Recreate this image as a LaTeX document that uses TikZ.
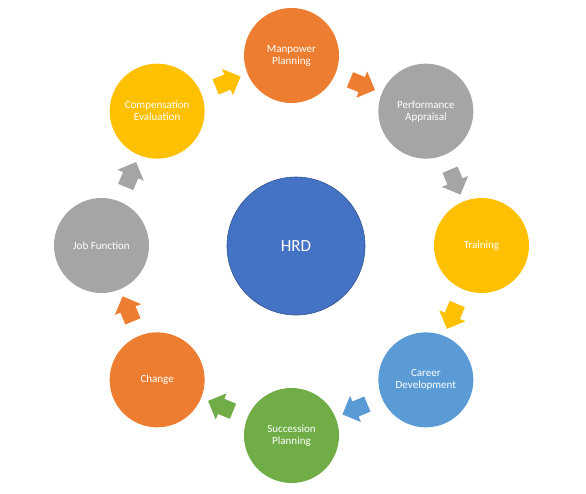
\documentclass[tikz,border=0pt]{standalone}
\usepackage{fontspec}
\setmainfont{Carlito}
\usetikzlibrary{shapes.arrows}
\definecolor{corange}{HTML}{ED7D31}
\definecolor{cgray}{HTML}{A5A5A5}
\definecolor{cyellow}{HTML}{FFC000}
\definecolor{cblue}{HTML}{5B9BD5}
\definecolor{cgreen}{HTML}{70AD47}
\definecolor{chrd}{HTML}{4472C4}
\definecolor{chrdline}{HTML}{2F528F}
\begin{document}
\begin{tikzpicture}[x=1pt,y=1pt,
  stage/.style={circle, minimum size=95pt, inner sep=0pt, text=white,
    font=\fontsize{11}{12}\selectfont, align=center},
  blockarrow/.style={single arrow, minimum height=27pt, inner sep=0pt,
    single arrow head extend=6pt, single arrow head indent=0pt,
    sloped, allow upside down, draw=none}
]
\useasboundingbox (-291.5,-247.5) rectangle (294.5,245.5);
\node[circle, minimum size=138pt, inner sep=0pt, fill=chrd, draw=chrdline, line width=0.6pt,
  text=white, font=\fontsize{17}{20}\selectfont] (hrd) at (4.5,-0.5) {HRD};
\node[stage, fill=corange] (man)  at (90:190)  {Manpower\\Planning};
\node[stage, fill=cgray]   (perf) at (45:190)  {Performance\\Appraisal};
\node[stage, fill=cyellow] (train) at (0:190)  {Training};
\node[stage, fill=cblue]   (career) at (-45:190) {Career\\Development};
\node[stage, fill=cgreen]  (succ) at (-90:190) {Succession\\Planning};
\node[stage, fill=corange] (change) at (-135:190) {Change};
\node[stage, fill=cgray]   (job)  at (180:190) {Job Function};
\node[stage, fill=cyellow] (comp) at (135:190) {Compensation\\Evaluation};
\path (comp) -- node[blockarrow, fill=cyellow] (a1) {\rule{0pt}{16pt}} (man);
\path (man) -- node[blockarrow, fill=corange] (a2) {\rule{0pt}{16pt}} (perf);
\path (perf) -- node[blockarrow, fill=cgray] (a3) {\rule{0pt}{16pt}} (train);
\path (train) -- node[blockarrow, fill=cyellow] (a4) {\rule{0pt}{16pt}} (career);
\path (career) -- node[blockarrow, fill=cblue] (a5) {\rule{0pt}{16pt}} (succ);
\path (succ) -- node[blockarrow, fill=cgreen] (a6) {\rule{0pt}{16pt}} (change);
\path (change) -- node[blockarrow, fill=corange] (a7) {\rule{0pt}{16pt}} (job);
\path (job) -- node[blockarrow, fill=cgray] (a8) {\rule{0pt}{16pt}} (comp);
\end{tikzpicture}
\end{document}
